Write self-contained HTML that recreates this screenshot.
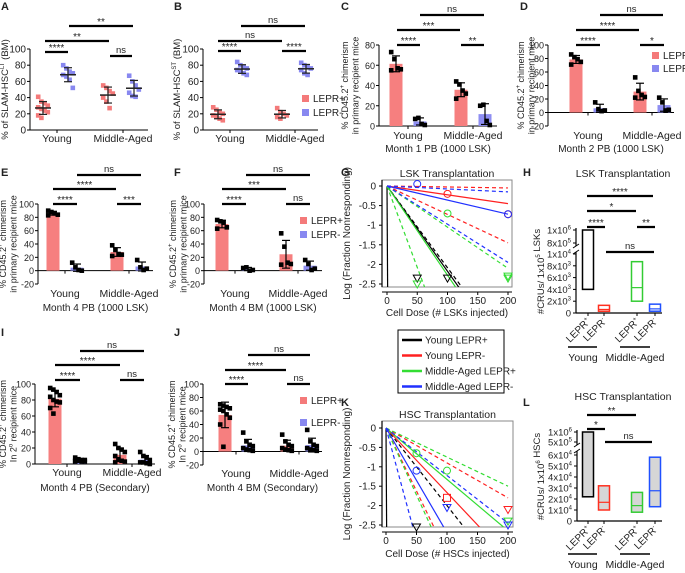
<!DOCTYPE html>
<html><head><meta charset="utf-8">
<style>
html,body{margin:0;padding:0;background:#fff;width:685px;height:573px;overflow:hidden;}
svg{display:block;font-family:"Liberation Sans",Arial,sans-serif;}
text{fill:#222;}
</style></head>
<body>
<svg id="fig" width="685" height="573" viewBox="0 0 685 573" xmlns="http://www.w3.org/2000/svg">
<defs>
<clipPath id="clipG"><rect x="382" y="180" width="130" height="107"/></clipPath>
<clipPath id="clipK"><rect x="382" y="421" width="131" height="106"/></clipPath>
</defs>
</svg>
<script>
// ---------- DATA ----------
const groups = ["Young","Middle-Aged"];
const seriesNames = ["LEPR+","LEPR-"];
const aYP=[41,35,33,30,28,26,24,22,18,15], aYM=[80,76,72,70,68,66,62,52], aMP=[55,52,48,45,40,35,27], aMM=[67,60,55,50,46,42,41];
const bYP=[28,25,22,20,18,16,14,12], bYM=[84,80,78,76,74,72,70,68], bMP=[27,22,20,18,16,14], bMM=[83,80,78,76,74,70,68];
const cYP=[73,66,57,56,55], cYM=[7,8,2,1], cMP=[44,41,35,32,27], cMM=[20,21,5,1];
const dYP=[86,82,79,75,71], dYM=[15,5,2,3], dMP=[52,32,26,23,22], dMM=[22,15,3,4];
const eYP=[90,88,86,84,83], eYM=[12,5,1,0], eMP=[38,31,25,24,22], eMM=[16,5,1,3];
const fYP=[76,74,72,65,63], fYM=[4,5,0,1], fMP=[56,36,12,10,9], fMM=[16,10,1,3];
const iYP=[95,93,90,86,84,80,78,77,70,63], iYM=[8,6,5,5,4,4,3,3,3], iMP=[25,20,18,15,10,6,4,3,2], iMM=[15,10,8,5,2,2,1,0];
const jYP=[70,68,66,64,62,60,55,50,40,7], jYM=[28,15,10,8,5,3,2,1], jMP=[25,15,10,8,5,3,2,1], jMM=[32,15,10,8,5,3,2,1];
const ticks0to100=[0,20,40,60,80,100], ticks0to80=[0,20,40,60,80], ticksNeg=[-20,0,20,40,60,80,100];
// limiting dilution lines: value of log fraction at dose 200
const doseTicks=[0,50,100,150,200], logTicks=[0,-0.5,-1,-1.5,-2,-2.5];
const gV200=[-500,-4.35,-4.17,-0.45,-0.05,-1.45,-4.55,-8.3,-2.1,-0.72,-0.15,-1.95];
const gDash=[0,0,1,0,1,1,0,1,1,0,1,1];
const gColor=[0,0,0,1,1,1,2,2,2,3,3,3];
const gMarkDose=[100,200,100,200,50,50,100,50,200,200];
const gMarkVal=[-0.2,-0.72,-0.7,-0.72,0.05,-2.35,-2.35,-2.5,-2.3,-2.35];
const gMarkType=["c","c","c","c","c","t","t","t","t","t"];
const gMarkColor=[1,1,2,3,3,0,0,2,2,2];
const kV200=[-500,-4.0,-3.33,-1.8,-6.5,-2.65,-1.5,-6.9,-5.4,-11.6,-2.45];
const kDash=[0,1,0,1,1,0,1,1,0,1,1];
const kColor=[0,0,1,1,1,2,2,2,3,3,3];
const kMarkDose=[50,50,100,100,100,50,200,200,200];
const kMarkVal=[-0.65,-1.1,-1.1,-1.8,-2.05,-2.55,-2.1,-2.4,-2.5];
const kMarkType=["c","c","c","s","t","t","t","t","t"];
const kMarkColor=[2,3,2,1,3,0,1,2,3];
// CRU boxes [low, median, high]
const hLow=[4000,300,2000,300], hMed=[4000,600,4300,700], hHigh=[1000000,1300,8700,1500];
const lLow=[22000,10000,8000,13000], lMed=[22000,17000,14000,27500], lHigh=[1000000,32000,26000,58000];

// ---------- HELPERS ----------
const svg=document.getElementById('fig');
const NS="http://www.w3.org/2000/svg";
const LINECOL=["#000","#ff2020","#33dd33","#2030ff"];
const RED="#f47a7a", BLUE="#8888f0";
function mk(tag,attrs,parent){const e=document.createElementNS(NS,tag);for(const k in attrs)e.setAttribute(k,attrs[k]);(parent||svg).appendChild(e);return e;}
function line(x1,y1,x2,y2,w,col,dash,p){return mk('line',{x1,y1,x2,y2,stroke:col||'#000','stroke-width':w||1,'stroke-dasharray':dash||'none'},p);}
function txt(x,y,s,size,anchor,p,extra){const t=mk('text',Object.assign({x,y,'font-size':size||10,'text-anchor':anchor||'middle'},extra||{}),p);t.textContent=s;return t;}
function mean(a){return a.reduce((s,v)=>s+v,0)/a.length;}
function sd(a){const m=mean(a);return Math.sqrt(a.reduce((s,v)=>s+(v-m)*(v-m),0)/(a.length-1));}
function scale(v0,p0,v1,p1){return v=>p0+(v-v0)*(p1-p0)/(v1-v0);}
function panelLabel(x,y,s){const t=txt(x,y,s,11,'start',null,{'font-weight':'bold'});}
function sig(x1,x2,y,s,p){const g=mk('g',{},p);line(x1,y,x2,y,2.2,'#000',null,g);txt((x1+x2)/2,y-(s==='ns'?3:1),s,s==='ns'?9.5:10,'middle',g);}
function ytitleRot(cx,cy,lines,p,fs){lines.forEach((l,i)=>{const t=mk('text',{x:0,y:0,'font-size':fs||9.5,'text-anchor':'middle',transform:`translate(${cx+i*10.5},${cy}) rotate(-90)`},p);t.innerHTML=l;});}
function legend(x,y,p,dy){[[RED,'LEPR+'],[BLUE,'LEPR-']].forEach((c,i)=>{const g=mk('g',{},p);mk('rect',{x,y:y+i*dy-5,width:7,height:7,fill:c[0]},g);txt(x+11,y+i*dy+2,c[1],10,'start',g);});}

function yAxis(p,ax,ys,ticks,top,bot,fs){line(ax,ys(top),ax,ys(bot),1,'#000',null,p);ticks.forEach(v=>{line(ax-3,ys(v),ax,ys(v),1,'#000',null,p);txt(ax-4,ys(v)+3.5,String(v),fs,'end',p);});}

// bar/scatter panel
function dotPanel(name,cfg){
  const p=mk('g',{});
  const ys=scale(cfg.vTop,cfg.pTop,cfg.vBot,cfg.pBot);
  yAxis(p,cfg.ax,ys,cfg.ticks,cfg.vTop,cfg.vBot,cfg.bar?9:10);
  const zeroY=ys(Math.max(0,cfg.vBot));
  line(cfg.ax,zeroY,cfg.xEnd,zeroY,1,'#000',null,p);
  cfg.cats.forEach((cx,i)=>{line(cx,zeroY,cx,zeroY+3,1,'#000',null,p);const t=txt(cx,cfg.catY,groups[i],10.5,'middle',p);});
  cfg.series.forEach((s,si)=>{
    const g=mk('g',{},p);
    
    
    const m=mean(s.data), e=sd(s.data), col=s.plus?RED:BLUE;
    if(cfg.bar){const y=ys(m);mk('rect',{x:s.x-6.5,y:Math.min(y,zeroY),width:13,height:Math.abs(zeroY-y),fill:s.plus?'#f67f7f':'#8e8ef2'},g);}
    s.data.forEach((v,k)=>{const jx=((k%4)-1.5)*3.2;const d=mk('rect',{x:s.x+jx-2.3,y:ys(v)-2.3,width:4.6,height:4.6,fill:cfg.bar?'#000':col},g);
      
      });
    const ec=cfg.bar?'#000':'#222';
    line(s.x,ys(m-e),s.x,ys(m+e),1.2,ec,null,g);
    line(s.x-4,ys(m+e),s.x+4,ys(m+e),1.2,ec,null,g);
    line(s.x-4,ys(m-e),s.x+4,ys(m-e),1.2,ec,null,g);
    if(!cfg.bar)line(s.x-8,ys(m),s.x+8,ys(m),1.5,ec,null,g);
  });
  (cfg.sigs||[]).forEach(a=>sig(a[0],a[1],a[2],a[3],p));
  if(cfg.ytitle)ytitleRot(cfg.ytx,(ys(cfg.vTop)+ys(cfg.vBot))/2,cfg.ytitle,p,cfg.bar?9:9.5);
  if(cfg.xtitle){const t=txt((cfg.ax+cfg.xEnd)/2,cfg.xtY,cfg.xtitle,10,'middle',p);}
  if(cfg.legend)legend(cfg.legend[0],cfg.legend[1],p,cfg.legend[2]);
  return p;
}
const CD="% CD45.2<tspan font-size='6' dy='-4'>+</tspan><tspan dy='4'> chimerism</tspan>";
const prim="in primary recipient mice", sec="In 2<tspan font-size='6' dy='-4'>o</tspan><tspan dy='4'> recipient mice</tspan>";

panelLabel(1,10,'A');
dotPanel('panel-a-scatter',{ax:30,vTop:100,pTop:49,vBot:0,pBot:130,ticks:ticks0to100,xEnd:148,cats:[57,123],catY:142,
  series:[{name:'a-young-lepr-plus',x:43,data:aYP,plus:1},{name:'a-young-lepr-minus',x:68,data:aYM},{name:'a-ma-lepr-plus',x:108,data:aMP,plus:1},{name:'a-ma-lepr-minus',x:134,data:aMM}],
  sigs:[[45,68,52,'****'],[110,132,56,'ns'],[45,109,41,'**'],[69,133,26,'**']],ytx:8,ytitle:["% of SLAM-HSC<tspan font-size='6' dy='-4'>LT</tspan><tspan dy='4'> (BM)</tspan>"]});
panelLabel(174,10,'B');
dotPanel('panel-b-scatter',{ax:203,vTop:100,pTop:49,vBot:0,pBot:130,ticks:ticks0to100,xEnd:318,cats:[230,295],catY:142,
  series:[{name:'b-young-lepr-plus',x:218,data:bYP,plus:1},{name:'b-young-lepr-minus',x:242,data:bYM},{name:'b-ma-lepr-plus',x:282,data:bMP,plus:1},{name:'b-ma-lepr-minus',x:306,data:bMM}],
  sigs:[[218,241,51,'****'],[282,306,51,'****'],[218,282,41,'ns'],[241,305,26,'ns']],ytx:180,ytitle:["% of SLAM-HSC<tspan font-size='6' dy='-4'>ST</tspan><tspan dy='4'> (BM)</tspan>"],legend:[302,100,14]});
panelLabel(341,10,'C');
dotPanel('panel-c-bars',{bar:1,ax:379,vTop:80,pTop:45,vBot:0,pBot:126,ticks:ticks0to80,xEnd:497,cats:[408,473],catY:139,xtitle:'Month 1 PB (1000 LSK)',xtY:152,
  series:[{name:'c-young-lepr-plus',x:396,data:cYP,plus:1},{name:'c-young-lepr-minus',x:420,data:cYM},{name:'c-ma-lepr-plus',x:461,data:cMP,plus:1},{name:'c-ma-lepr-minus',x:485,data:cMM}],
  sigs:[[397,420,45,'****'],[461,484,45,'**'],[397,460,30,'***'],[420,484,15,'ns']],ytx:348,ytitle:[CD,prim]});
panelLabel(520,10,'D');
dotPanel('panel-d-bars',{bar:1,ax:548,vTop:100,pTop:45,vBot:-20,pBot:126,ticks:ticksNeg,xEnd:674,cats:[588,652],catY:139,xtitle:'Month 2 PB (1000 LSK)',xtY:152,
  series:[{name:'d-young-lepr-plus',x:576,data:dYP,plus:1},{name:'d-young-lepr-minus',x:600,data:dYM},{name:'d-ma-lepr-plus',x:640,data:dMP,plus:1},{name:'d-ma-lepr-minus',x:664,data:dMM}],
  sigs:[[576,600,45,'****'],[640,664,45,'*'],[576,639,30,'****'],[600,663,15,'ns']],ytx:524,ytitle:[CD,prim],legend:[652,57,13]});
panelLabel(1,176,'E');
dotPanel('panel-e-bars',{bar:1,ax:38,vTop:100,pTop:204,vBot:-20,pBot:284,ticks:ticksNeg,xEnd:153,cats:[65,129],catY:297,xtitle:'Month 4 PB (1000 LSK)',xtY:311,
  series:[{name:'e-young-lepr-plus',x:53,data:eYP,plus:1},{name:'e-young-lepr-minus',x:77,data:eYM},{name:'e-ma-lepr-plus',x:117,data:eMP,plus:1},{name:'e-ma-lepr-minus',x:142,data:eMM}],
  sigs:[[53,77,204,'****'],[117,141,204,'***'],[53,116,189,'****'],[77,141,175,'ns']],ytx:6,ytitle:[CD,prim]});
panelLabel(174,176,'F');
dotPanel('panel-f-bars',{bar:1,ax:204,vTop:100,pTop:204,vBot:-20,pBot:284,ticks:ticksNeg,xEnd:322,cats:[235,298],catY:297,xtitle:'Month 4 BM (1000 LSK)',xtY:311,
  series:[{name:'f-young-lepr-plus',x:222,data:fYP,plus:1},{name:'f-young-lepr-minus',x:248,data:fYM},{name:'f-ma-lepr-plus',x:286,data:fMP,plus:1},{name:'f-ma-lepr-minus',x:310,data:fMM}],
  sigs:[[222,246,204,'****'],[286,310,204,'ns'],[222,286,189,'***'],[246,310,175,'ns']],ytx:176,ytitle:[CD,prim],legend:[300,222,14]});
panelLabel(1,336,'I');
dotPanel('panel-i-bars',{bar:1,ax:35,vTop:100,pTop:384,vBot:0,pBot:464,ticks:ticks0to100,xEnd:155,cats:[67,132],catY:476,xtitle:'Month 4 PB (Secondary)',xtY:491,
  series:[{name:'i-young-lepr-plus',x:55,data:iYP,plus:1},{name:'i-young-lepr-minus',x:80,data:iYM},{name:'i-ma-lepr-plus',x:120,data:iMP,plus:1},{name:'i-ma-lepr-minus',x:145,data:iMM}],
  sigs:[[55,80,380,'****'],[120,144,380,'ns'],[55,120,365,'****'],[80,144,351,'ns']],ytx:6,ytitle:[CD,sec]});
panelLabel(174,336,'J');
dotPanel('panel-j-bars',{bar:1,ax:203,vTop:100,pTop:384,vBot:-20,pBot:465,ticks:ticksNeg,xEnd:322,cats:[236,299],catY:477,xtitle:'Month 4 BM (Secondary)',xtY:491,
  series:[{name:'j-young-lepr-plus',x:225,data:jYP,plus:1},{name:'j-young-lepr-minus',x:248,data:jYM},{name:'j-ma-lepr-plus',x:287,data:jMP,plus:1},{name:'j-ma-lepr-minus',x:312,data:jMM}],
  sigs:[[225,248,384,'****'],[287,310,384,'ns'],[225,286,370,'****'],[248,310,355,'ns']],ytx:175,ytitle:[CD,sec],legend:[300,402,22]});

// ---------- limiting dilution panels ----------
function ldPanel(name,c,v200,dash,colIdx,md,mv,mt,mc){
  const p=mk('g',{});
  const xs=scale(0,c.x0,200,c.x200), ys=scale(0,c.y0,-2.5,c.y25);
  const t=txt((c.bl+c.br)/2,c.titleY,c.title,10.5,'middle',p);
  mk('rect',{x:c.bl,y:c.bt,width:c.br-c.bl,height:c.bb-c.bt,fill:'none',stroke:'#888','stroke-width':1},p);
  const lg=mk('g',{'clip-path':`url(#${c.clip})`},p);
  v200.forEach((v,i)=>{const l=line(xs(0),ys(0),xs(200),ys(v),1.2,LINECOL[colIdx[i]],dash[i]?'4,3':null,lg);
    
    });
  md.forEach((d,i)=>{const x=xs(d),y=ys(mv[i]),col=LINECOL[mc[i]];let m;
    if(mt[i]==='c')m=mk('circle',{cx:x,cy:y,r:3.5,fill:'none',stroke:col,'stroke-width':1},p);
    else if(mt[i]==='s')m=mk('rect',{x:x-3.5,y:y-3.5,width:7,height:7,fill:'none',stroke:col,'stroke-width':1},p);
    else m=mk('path',{d:`M${x-4},${y-3}L${x+4},${y-3}L${x},${y+4}Z`,fill:'none',stroke:col,'stroke-width':1},p);
    
    });
  line(c.bl,c.bt,c.bl,c.bb,1.2,'#000',null,p);
  logTicks.forEach(v=>{line(c.bl-3,ys(v),c.bl,ys(v),1,'#000',null,p);txt(c.bl-6,ys(v)+3.5,String(v),10,'end',p);});
  line(c.bl,c.bb+5,c.br,c.bb+5,1,'#000',null,p);
  doseTicks.forEach(v=>{line(xs(v),c.bb+5,xs(v),c.bb+8,1,'#000',null,p);txt(xs(v),c.bb+17,String(v),10,'middle',p);});
  const xt=txt((c.bl+c.br)/2,c.xtY,c.xtitle,10,'middle',p);
  const yt=mk('text',{x:0,y:0,'font-size':10,'text-anchor':'middle',transform:`translate(${c.ytx},${(c.bt+c.bb)/2}) rotate(-90)`},p);yt.textContent='Log (Fraction Nonresponding)';
  
  
}
panelLabel(341,176,'G');
ldPanel('panel-g-lsk-ld',{title:'LSK Transplantation',titleY:177,bl:382,br:512,bt:180,bb:287,x0:387,x200:508,y0:186,y25:284,clip:'clipG',xtitle:'Cell Dose (# LSKs injected)',xtY:316,ytx:350},gV200,gDash,gColor,gMarkDose,gMarkVal,gMarkType,gMarkColor);
panelLabel(341,406,'K');
ldPanel('panel-k-hsc-ld',{title:'HSC Transplantation',titleY:418,bl:382,br:513,bt:421,bb:527,x0:386,x200:508,y0:428,y25:525,clip:'clipK',xtitle:'Cell Dose (# HSCs injected)',xtY:557,ytx:350},kV200,kDash,kColor,kMarkDose,kMarkVal,kMarkType,kMarkColor);

// legend box
(function(){const g=mk('g',{});
  mk('rect',{x:398,y:330,width:106,height:63,fill:'#fff',stroke:'#000','stroke-width':1},g);
  ["Young LEPR+","Young LEPR-","Middle-Aged LEPR+","Middle-Aged LEPR-"].forEach((s,i)=>{const y=340+i*15.5;const e=mk('g',{},g);
    
    
    line(402,y,422,y,2.5,LINECOL[i],null,e);txt(425,y+3.5,s,10,'start',e);});})();

// ---------- CRU box panels ----------
function cruPanel(name,c,lo,me,hi){
  const p=mk('g',{});
  const lower=scale(0,c.p0,c.lMax,c.pLMax), upper=scale(c.uMin,c.pUMin,c.uMax,c.pUMax);
  const ys=v=>v<=c.lMax?lower(v):(v>=c.uMin?upper(v):c.pBreak);
  const t=txt(623,c.titleY,c.title,10.5,'middle',p);
  line(c.ax,c.pUMax-2,c.ax,c.pBreak-3,1.2,'#000',null,p);line(c.ax,c.pBreak+3,c.ax,c.p0,1.2,'#000',null,p);
  line(c.ax-3,c.pBreak-1,c.ax+3,c.pBreak-5,1,'#000',null,p);line(c.ax-3,c.pBreak+5,c.ax+3,c.pBreak+1,1,'#000',null,p);
  c.tickVals.forEach((v,i)=>{line(c.ax-3,ys(v),c.ax,ys(v),1,'#000',null,p);const tt=mk('text',{x:c.ax-5,y:ys(v)+3.5,'font-size':9.5,'text-anchor':'end'},p);tt.innerHTML=c.tickLbl[i];});
  line(c.ax,c.p0,662,c.p0,1.2,'#000',null,p);
  const xs=[588,604,637,655], cols=['#000','#ff3020','#33cc33','#2050ff'], lbls=['LEPR<tspan font-size="6" dy="-4">+</tspan>','LEPR<tspan font-size="6" dy="-4">-</tspan>'];
  xs.forEach((x,i)=>{line(x,c.p0,x,c.p0+3,1,'#000',null,p);
    const b=mk('g',{},p);
    
    
    mk('rect',{x:x-5.5,y:ys(hi[i]),width:11,height:ys(lo[i])-ys(hi[i]),fill:c.fill,stroke:cols[i],'stroke-width':1.5},b);
    line(x-5.5,ys(me[i]),x+5.5,ys(me[i]),1.2,cols[i],null,b);
    const lt=mk('text',{x:0,y:0,'font-size':10,'text-anchor':'end',transform:`translate(${x+3},${c.p0+9}) rotate(-45)`},p);lt.innerHTML=lbls[i%2];});
  [[568,597,'Young',583],[620,650,'Middle-Aged',635]].forEach(a=>{line(a[0],c.gY,a[1],c.gY,1.5,'#000',null,p);const gt=txt(a[3],c.gY+14,a[2],10.5,'middle',p);});
  c.sigs.forEach(a=>sig(a[0],a[1],a[2],a[3],p));
  const yt=mk('text',{x:0,y:0,'font-size':9.5,'text-anchor':'middle',transform:`translate(${c.ytx},${(c.pUMax+c.p0)/2}) rotate(-90)`},p);yt.innerHTML=c.ytitle;
  
  
}
const sup=s=>`<tspan font-size="6" dy="-4">${s}</tspan><tspan dy="4"></tspan>`;
panelLabel(523,176,'H');
cruPanel('panel-h-lsk-cru',{title:'LSK Transplantation',titleY:177,ax:576,p0:313,lMax:10000,pLMax:254,uMin:800000,pUMin:243,uMax:1000000,pUMax:230,pBreak:249,fill:'none',
  tickVals:[0,2000,4000,6000,8000,10000,800000,1000000],tickLbl:['0','2x10'+sup(3),'4x10'+sup(3),'6x10'+sup(3),'8x10'+sup(3),'1x10'+sup(4),'8x10'+sup(5),'1x10'+sup(6)],
  gY:347,sigs:[[587,605,227,'****'],[637,655,227,'**'],[606,654,252,'ns'],[587,636,211,'*'],[587,653,196,'****']],ytx:544,ytitle:'#CRUs/ 1x10'+sup(5)+' LSKs'},hLow,hMed,hHigh);
panelLabel(523,406,'L');
cruPanel('panel-l-hsc-cru',{title:'HSC Transplantation',titleY:400,ax:577,p0:521,lMax:60000,pLMax:455,uMin:500000,pUMin:442,uMax:1000000,pUMax:432,pBreak:448,fill:'#d6d6d6',
  tickVals:[0,10000,20000,30000,40000,50000,60000,500000,1000000],tickLbl:['0','1x10'+sup(4),'2x10'+sup(4),'3x10'+sup(4),'4x10'+sup(4),'5x10'+sup(4),'6x10'+sup(4),'5x10'+sup(5),'1x10'+sup(6)],
  gY:554,sigs:[[587,605,429,'*'],[587,636,415,'**'],[605,652,442,'ns']],ytx:544,ytitle:'#CRUs/ 1x10'+sup(6)+' HSCs'},lLow,lMed,lHigh);
</script>
</body></html>
